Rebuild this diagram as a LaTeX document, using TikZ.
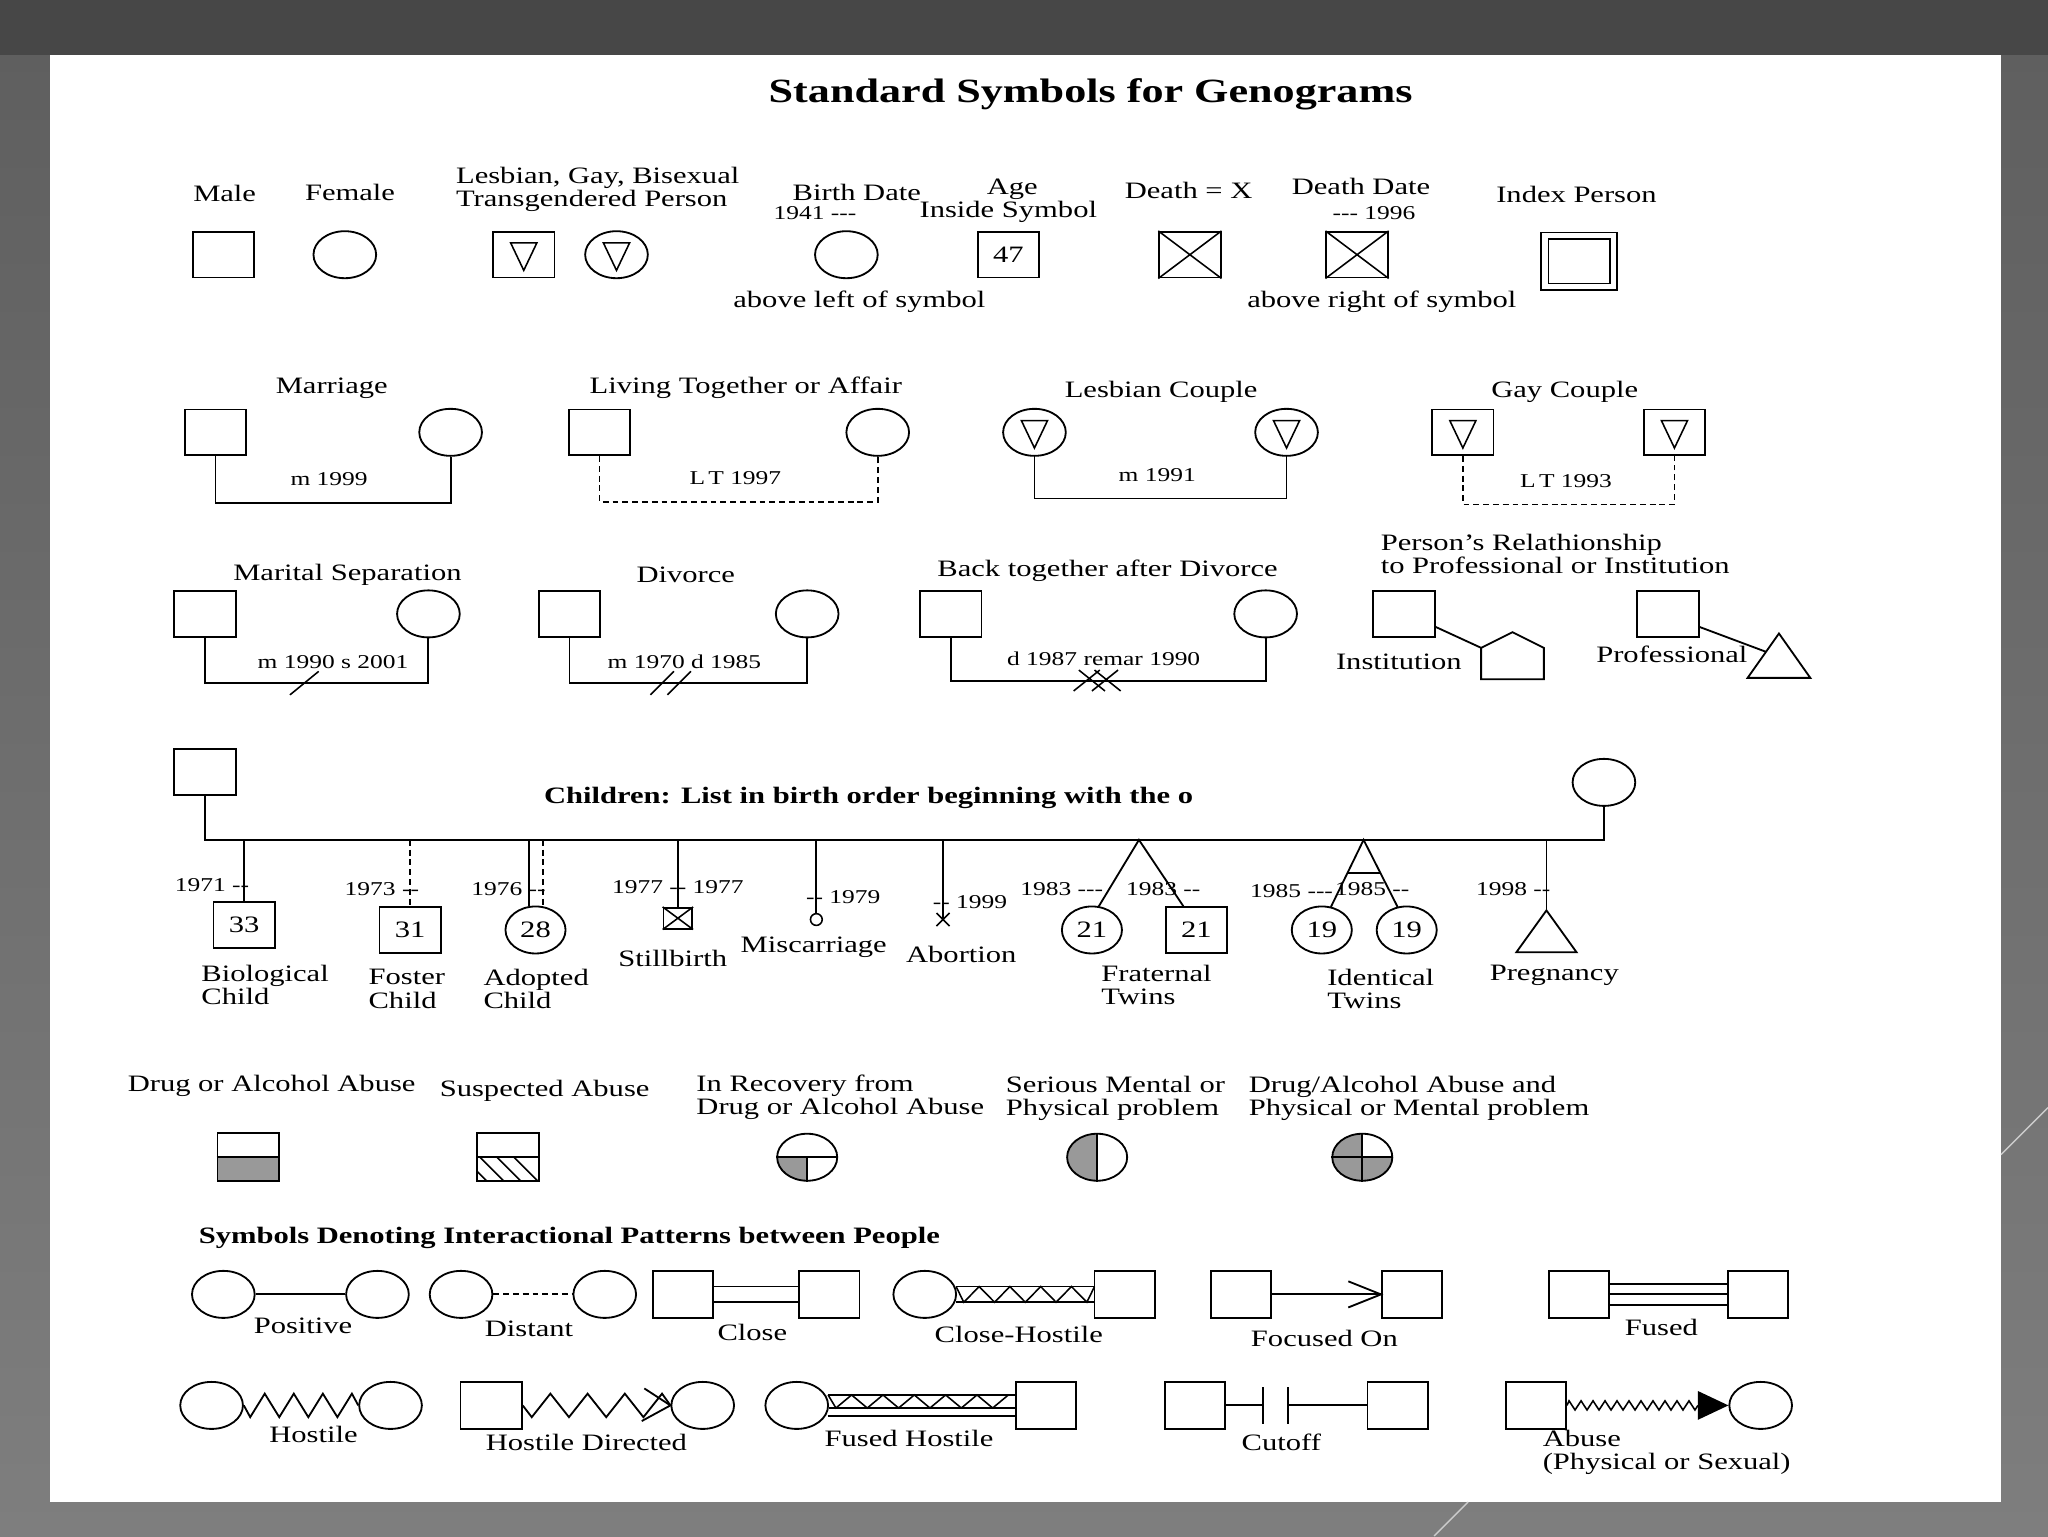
\documentclass[tikz,border=0pt]{standalone}
\usepackage{fontspec}
\setmainfont{Liberation Serif}[FakeStretch=1.3]
\usetikzlibrary{shapes.geometric,calc}
\newcommand\gL{\fontsize{18}{18}\selectfont}
\newcommand\gS{\fontsize{15}{15}\selectfont}
\newcommand\gT{\fontsize{26}{26}\selectfont\bfseries}
\newcommand\gB{\fontsize{18}{18}\selectfont\bfseries}
\newcommand\gItri[1]{\draw[line width=1.2pt] ($(#1)+(-10,-9)$) -- ($(#1)+(10,-9)$) -- ($(#1)+(0,12)$) -- cycle;}
% zigzag: style, from, to, x1, x2, y, halfwaves, amplitude
\newcommand\gZig[8]{\draw[#1] (#2) \foreach \i in {1,...,#7} {-- ({#4+(\i-0.5)*(#5-#4)/#7},{#6+#8*cos(180*\i)})} -- (#3);}
\definecolor{bgtop}{HTML}{474747}
\definecolor{bgA}{HTML}{5E5E5E}
\definecolor{bgB}{HTML}{7E7E7E}
\definecolor{shadeg}{HTML}{999999}
\begin{document}
\begin{tikzpicture}[x=1pt,y=-1pt,
  ln/.style={line width=1.4pt},
  thin/.style={line width=1.2pt},
  dsh/.style={line width=1.4pt,dash pattern=on 4.5pt off 3pt},
  sq/.style={draw,line width=1.4pt,rectangle,minimum width=47pt,minimum height=35pt,inner sep=0pt},
  ci/.style={draw,line width=1.4pt,ellipse,minimum width=48pt,minimum height=36pt,inner sep=0pt},
  lab/.style={font=\gL,inner sep=0pt,align=center},
  sm/.style={font=\gS,inner sep=0pt},
]
\useasboundingbox (0,0) rectangle (1568,1176);
% background
\shade[top color=bgA,bottom color=bgB] (0,0) rectangle (1568,1176);
\fill[bgtop] (0,0) rectangle (1568,42);
\fill[white] (38,42) rectangle (1532,1150);
\draw[gray!40,line width=1pt] (1532,884) -- (1568,848);
\draw[gray!40,line width=1pt] (1098,1176) -- (1124,1150);

\node[font=\gT,inner sep=0pt] (title) at (835,72) {Standard Symbols for Genograms};

% ---------- row 1
\node[lab] (tMale) at (172,148) {Male};
\node[sq] (male) at (171,195) {};
\node[lab] (tFem) at (268,147) {Female};
\node[ci] (fem) at (264,195) {};
\node[lab,anchor=west,align=left] (tLGBT) at (349,145) {Lesbian, Gay, Bisexual\\Transgendered Person};
\node[sq] (lgbtS) at (401,195) {}; \gItri{lgbtS}
\node[ci] (lgbtC) at (472,195) {}; \gItri{lgbtC}
\node[lab] (tBirth) at (656,147) {Birth Date};
\node[sm] (tB41) at (624,163) {1941 -{}-{}-};
\node[ci] (birth) at (648,195) {};
\node[lab] (tAbL) at (658,231) {above left of symbol};
\node[lab] (tAge) at (775,145) {Age};
\node[lab] (tIns) at (772,162) {Inside Symbol};
\node[sq,font=\gL] (age) at (772,195) {47};
\node[lab] (tDeath) at (910,146) {Death = X};
\node[sq] (death) at (911,195) {};
\draw[thin] (death.north west) -- (death.south east) (death.north east) -- (death.south west);
\node[lab] (tDD) at (1042,143) {Death Date};
\node[sm] (tD96) at (1052,163) {-{}-{}- 1996};
\node[sq] (dd) at (1039,195) {};
\draw[thin] (dd.north west) -- (dd.south east) (dd.north east) -- (dd.south west);
\node[lab] (tAbR) at (1058,231) {above right of symbol};
\node[lab] (tIdx) at (1207,149) {Index Person};
\node[sq,minimum width=58pt,minimum height=44pt] (idx) at (1209,200) {};
\node[sq,minimum width=47pt,minimum height=34pt] (idxIn) at (1209,200) {};

% ---------- row 2
\node[lab] (tMar) at (254,297) {Marriage};
\node[sq] (m1) at (165,331) {};
\node[ci] (f1) at (345,331) {};
\draw[ln] (m1.south) -- ++(0,36) -| (f1.south);
\node[sm] (tM99) at (252,367) {m 1999};

\node[lab] (tLT) at (571,297) {Living Together or Affair};
\node[sq] (m2) at (459,331) {};
\node[ci] (f2) at (672,331) {};
\draw[dsh] (m2.south) -- ++(0,35) -| (f2.south);
\node[sm] (tLT97) at (563,366) {L\,T 1997};

\node[lab] (tLes) at (889,300) {Lesbian Couple};
\node[ci] (l1) at (792,331) {}; \gItri{l1}
\node[ci] (l2) at (985,331) {}; \gItri{l2}
\draw[ln] (l1.south) -- ++(0,32) -| (l2.south);
\node[sm] (tM91) at (886,364) {m 1991};

\node[lab] (tGay) at (1198,300) {Gay Couple};
\node[sq] (g1) at (1120,331) {}; \gItri{g1}
\node[sq] (g2) at (1282,331) {}; \gItri{g2}
\draw[dsh] (g1.south) -- ++(0,37) -| (g2.south);
\node[sm] (tLT93) at (1199,368) {L\,T 1993};

% ---------- row 3
\node[lab] (tSep) at (266,440) {Marital Separation};
\node[sq] (m3) at (157,470) {};
\node[ci] (f3) at (328,470) {};
\draw[ln] (m3.south) -- ++(0,35) -| (f3.south);
\node[sm] (tS) at (255,507) {m 1990 s 2001};
\draw[thin] (222,532) -- (244,514);

\node[lab] (tDiv) at (525,440) {Divorce};
\node[sq] (m4) at (436,470) {};
\node[ci] (f4) at (618,470) {};
\draw[ln] (m4.south) -- ++(0,35) -| (f4.south);
\node[sm] (tD) at (524,507) {m 1970 d 1985};
\draw[thin] (498,532) -- (516,514) (511,532) -- (529,514);

\node[lab] (tBack) at (848,437) {Back together after Divorce};
\node[sq] (m5) at (728,470) {};
\node[ci] (f5) at (969,470) {};
\draw[ln] (m5.south) -- ++(0,33) -| (f5.south);
\node[sm] (tR) at (845,504) {d 1987 remar 1990};
\draw[thin] (822,529) -- (842,513) (826,513) -- (846,529) (836,529) -- (856,513) (838,513) -- (858,529);

\node[lab,anchor=west,align=left] (tRel) at (1057,424) {Person's Relathionship\\to Professional or Institution};
\node[sq] (ins) at (1075,470) {};
\draw[ln] (1134,520) -- (1182,520) -- (1182,496) -- (1158,484) -- (1134,496) -- cycle;
\coordinate (insR) at (1134,496);
\draw[ln] ($(ins.east)+(0,10)$) -- (insR);
\node[lab] (tIns2) at (1071,507) {Institution};
\node[sq] (pro) at (1277,470) {};
\draw[ln] (1362,485) -- (1386,519) -- (1338,519) -- cycle;
\coordinate (proL) at (1352,499);
\draw[ln] ($(pro.east)+(0,10)$) -- (proL);
\node[lab] (tPro) at (1280,501) {Professional};

% ---------- row 4 children
\node[sq] (fa) at (157,591) {};
\node[ci] (mo) at (1228,599) {};
\coordinate (bL) at (157,643);
\coordinate (bR) at (1228,643);
\draw[ln] (fa.south) -- (bL) -- (bR) -- (mo.south);
\node[font=\gB,inner sep=0pt] (tChild) at (665,611) {Children: List in birth order beginning with the o};

\node[sq,minimum height=35pt,font=\gL] (c1) at (187,708) {33};
\draw[ln] (c1.north |- bL) -- (c1.north);
\node[sm,anchor=east] (y1) at (191,678) {1971 -{}-};
\node[lab,anchor=west,align=left] (tc1) at (154,754) {Biological\\Child};

\node[sq,font=\gL] (c2) at (314,712) {31};
\draw[dsh] (c2.north |- bL) -- (c2.north);
\node[sm,anchor=east] (y2) at (321,681) {1973 -{}-};
\node[lab,anchor=west,align=left] (tc2) at (282,757) {Foster\\Child};

\node[ci,minimum width=46pt,font=\gL] (c3) at (410,712) {28};
\coordinate (c3a) at ($(c3.north)+(-5,0.6)$);
\coordinate (c3b) at ($(c3.north)+(6,0.9)$);
\draw[ln] (c3a |- bL) -- (c3a);
\draw[dsh] (c3b |- bL) -- (c3b);
\node[sm,anchor=east] (y3) at (418,681) {1976 -{}-};
\node[lab,anchor=west,align=left] (tc3) at (370,757) {Adopted\\Child};

\node[draw,line width=1.3pt,minimum width=22pt,minimum height=16pt,inner sep=0pt] (c4) at (519,703) {};
\draw[thin] (c4.north west) -- (c4.south east) (c4.north east) -- (c4.south west);
\draw[ln] (c4.north |- bL) -- (c4.north);
\node[sm] (y4) at (519,679) {1977 -{}- 1977};
\node[lab] (tc4) at (515,734) {Stillbirth};

\node[draw,line width=1.2pt,circle,minimum size=9pt,inner sep=0pt] (c5) at (625,704) {};
\draw[ln] (c5.north |- bL) -- (c5.north);
\node[sm,anchor=west] (y5) at (617,687) {-{}- 1979};
\node[lab] (tc5) at (623,725) {Miscarriage};

\coordinate (c6) at (722,704);
\draw[ln] (c6 |- bL) -- (c6);
\draw[thin] ($(c6)+(-5,-5)$) -- ($(c6)+(5,5)$) ($(c6)+(-5,5)$) -- ($(c6)+(5,-5)$);
\node[sm,anchor=west] (y6) at (714,691) {-{}- 1999};
\node[lab] (tc6) at (736,731) {Abortion};

\coordinate (ft) at (872,643);
\node[ci,minimum width=46pt,font=\gL] (c7) at (836,712) {21};
\node[sq,font=\gL] (c8) at (916,712) {21};
\draw[ln] ($(c7.north)+(5,1)$) -- (ft) -- ($(c8.north)+(-10,0)$);
\node[sm,anchor=west] (y7) at (781,681) {1983 -{}-{}-};
\node[sm,anchor=west] (y8) at (862,681) {1983 -{}-};
\node[lab,anchor=west,align=left] (tc7) at (843,754) {Fraternal\\Twins};

\coordinate (it) at (1044,643);
\node[ci,minimum width=46pt,font=\gL] (c9) at (1012,712) {19};
\node[ci,minimum width=46pt,font=\gL] (c10) at (1077,712) {19};
\coordinate (itL) at ($(c9.north)+(7,1)$);
\coordinate (itR) at ($(c10.north)+(-7,1)$);
\draw[ln] (itL) -- (it) -- (itR);
\draw[ln] ($(it)!0.49!(itL)$) -- ($(it)!0.49!(itR)$);
\node[sm,anchor=west] (y9) at (957,682) {1985 -{}-{}-};
\node[sm,anchor=west] (y10) at (1022,681) {1985 -{}-};
\node[lab,anchor=west,align=left] (tc9) at (1016,757) {Identical\\Twins};

\coordinate (pg) at (1184,697);
\draw[ln] (pg |- bL) -- (pg);
\draw[ln] (pg) -- (1207,729) -- (1161,729) -- cycle;
\node[sm,anchor=west] (y11) at (1130,681) {1998 -{}-};
\node[lab] (tc11) at (1190,747) {Pregnancy};

% ---------- row 5
\node[lab] (tDA) at (208,831) {Drug or Alcohol Abuse};
\node[sq,minimum height=37pt,path picture={\fill[shadeg] (path picture bounding box.west) rectangle (path picture bounding box.south east);}] (dA) at (190,886) {};
\draw[ln] (dA.west) -- (dA.east);

\node[lab] (tSA) at (417,835) {Suspected Abuse};
\node[sq,minimum height=37pt,path picture={
  \clip (path picture bounding box.west) rectangle (path picture bounding box.south east);
  \foreach \dx in {-24,-11,2,15,28} {\draw[thin] ($(path picture bounding box.west)+(\dx,0)$) -- ++(19,19);}
}] (sA) at (389,886) {};
\draw[ln] (sA.west) -- (sA.east);

\node[lab,anchor=west,align=left] (tRec) at (533,840) {In Recovery from\\Drug or Alcohol Abuse};
\node[ci,minimum width=46pt,path picture={\fill[shadeg] (path picture bounding box.center) rectangle (path picture bounding box.south west);}] (rc) at (618,886) {};
\draw[ln] (rc.west) -- (rc.east) (rc.center) -- (rc.south);

\node[lab,anchor=west,align=left] (tSer) at (770,841) {Serious Mental or\\Physical problem};
\node[ci,minimum width=46pt,path picture={\fill[shadeg] (path picture bounding box.north) rectangle (path picture bounding box.south west);}] (se) at (840,886) {};
\draw[ln] (se.north) -- (se.south);

\node[lab,anchor=west,align=left] (tDP) at (956,841) {Drug/Alcohol Abuse and\\Physical or Mental problem};
\node[ci,minimum width=46pt,path picture={\fill[shadeg] (path picture bounding box.north) rectangle (path picture bounding box.south west);
  \fill[shadeg] (path picture bounding box.center) rectangle (path picture bounding box.south east);}] (dp) at (1043,886) {};
\draw[ln] (dp.north) -- (dp.south) (dp.west) -- (dp.east);

% ---------- interactional patterns
\node[font=\gB,inner sep=0pt,anchor=west] (tInt) at (152,948) {Symbols Denoting Interactional Patterns between People};

\node[ci] (p1) at (171,991) {};
\node[ci] (p2) at (289,991) {};
\draw[ln] (p1) -- (p2);
\node[lab] (tPos) at (232,1015) {Positive};

\node[ci] (d1) at (353,991) {};
\node[ci] (d2) at (463,991) {};
\draw[dsh] (d1) -- (d2);
\node[lab] (tDis) at (405,1017) {Distant};

\node[sq,minimum width=46pt,minimum height=36pt] (cl1) at (523,991) {};
\node[sq,minimum width=46pt,minimum height=36pt] (cl2) at (635,991) {};
\draw[ln] ($(cl1.east)+(0,-6)$) -- ($(cl2.west)+(0,-6)$) ($(cl1.east)+(0,6)$) -- ($(cl2.west)+(0,6)$);
\node[lab] (tClo) at (576,1020) {Close};

\node[ci] (ch1) at (708,991) {};
\node[sq,minimum width=46pt,minimum height=36pt] (ch2) at (861,991) {};
\draw[ln] ($(ch1.east)+(-1,-6)$) -- ($(ch2.west)+(0,-6)$) ($(ch1.east)+(-1,6)$) -- ($(ch2.west)+(0,6)$);
\coordinate (chA) at (732,985);
\coordinate (chB) at (838,985);
\gZig{thin}{chA}{chB}{732}{838}{991}{9}{-6}
\node[lab] (tCH) at (780,1022) {Close-Hostile};

\node[sq,minimum width=46pt,minimum height=36pt] (fo1) at (950,991) {};
\node[sq,minimum width=46pt,minimum height=36pt] (fo2) at (1081,991) {};
\draw[ln] (fo1) -- (fo2);
\draw[ln] ($(fo2.west)+(-25,-10)$) -- (fo2.west) -- ($(fo2.west)+(-25,10)$);
\node[lab] (tFo) at (1014,1025) {Focused On};

\node[sq,minimum width=46pt,minimum height=36pt] (fu1) at (1209,991) {};
\node[sq,minimum width=46pt,minimum height=36pt] (fu2) at (1346,991) {};
\draw[ln] ($(fu1.east)+(0,-8)$) -- ($(fu2.west)+(0,-8)$) (fu1) -- (fu2) ($(fu1.east)+(0,8)$) -- ($(fu2.west)+(0,8)$);
\node[lab] (tFu) at (1272,1016) {Fused};

\node[ci] (h1) at (162,1076) {};
\node[ci] (h2) at (299,1076) {};
\gZig{ln}{h1.east}{h2.west}{186}{275}{1076}{8}{-9}
\node[lab] (tHo) at (240,1098) {Hostile};

\node[sq,minimum width=47pt,minimum height=36pt] (hd1) at (376,1076) {};
\node[ci] (hd2) at (538,1076) {};
\gZig{ln}{hd1.east}{hd2.west}{400}{514}{1076}{8}{-9}
\draw[ln] ($(hd2.west)+(-20,-13)$) -- (hd2.west) -- ($(hd2.west)+(-22,12)$);
\node[lab] (tHD) at (449,1104) {Hostile Directed};

\node[ci] (fh1) at (610,1076) {};
\node[sq,minimum width=46pt,minimum height=36pt] (fh2) at (801,1076) {};
\draw[ln] ($(fh1.east)+(-1,-8)$) -- ($(fh2.west)+(0,-8)$) ($(fh1.east)+(-1,8)$) -- ($(fh2.west)+(0,8)$);
\draw[thin] ($(fh1.east)+(0,2)$) -- ($(fh2.west)+(0,2)$);
\coordinate (fhA) at (634,1068);
\coordinate (fhB) at (778,1068);
\gZig{thin}{fhA}{fhB}{634}{778}{1073}{12}{-5}
\node[lab] (tFH) at (696,1101) {Fused Hostile};

\node[sq,minimum width=46pt,minimum height=36pt] (cu1) at (915,1076) {};
\node[sq,minimum width=46pt,minimum height=36pt] (cu2) at (1070,1076) {};
\coordinate (cuA) at (967,1076);
\coordinate (cuB) at (986,1076);
\draw[ln] (cu1) -- (cuA) (cuB) -- (cu2);
\draw[ln] ($(cuA)+(0,-14)$) -- ($(cuA)+(0,14)$) ($(cuB)+(0,-14)$) -- ($(cuB)+(0,14)$);
\node[lab] (tCu) at (981,1104) {Cutoff};

\node[sq,minimum width=46pt,minimum height=36pt] (ab1) at (1176,1076) {};
\node[ci] (ab2) at (1348,1076) {};
\coordinate (abT) at (1300,1076);
\gZig{thin}{ab1.east}{abT}{1199}{1300}{1076}{22}{3.5}
\fill ($(abT)+(0,-11)$) -- (ab2.west) -- ($(abT)+(0,11)$) -- cycle;
\node[lab,anchor=west,align=left] (tAb) at (1181,1112) {Abuse\\(Physical or Sexual)};
\end{tikzpicture}
\end{document}
